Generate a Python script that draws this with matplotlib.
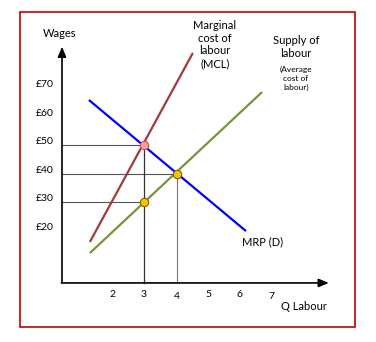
import matplotlib.pyplot as plt
from matplotlib.patches import Rectangle

# curve end points (Q labour, wage in pounds)
mrp_q = [1.33, 6.09]
mrp_w = [65.8, 19.8]
mcl_q = [1.36, 4.48]
mcl_w = [16.0, 82.3]
supply_q = [1.36, 6.58]
supply_w = [12.1, 68.6]

# points of interest
mcl_point = (3, 50)
orange_q = [4, 3]
orange_w = [40, 30]

wage_ticks = [70, 60, 50, 40, 30, 20]
wage_labels = ["£70", "£60", "£50", "£40", "£30", "£20"]
q_ticks = [2, 3, 4, 5, 6, 7]
q_tick_pos = [2.03, 3, 4, 4.94, 5.88, 6.85]

plt.rcParams['font.family'] = ['Lato', 'DejaVu Sans']

fig = plt.figure(figsize=(3.76, 3.42), dpi=100)
ax = fig.add_axes([0, 0, 1, 1])
ax.set_xlim(-1.364, 10.03)
ax.set_ylim(-19.12, 100.88)
ax.axis("off")

# red frame
fig.patches.append(Rectangle((19.5 / 376, 1 - 327 / 342), 335 / 376, 315 / 342,
                             transform=fig.transFigure, fill=False,
                             edgecolor="#c00000", linewidth=1.2))

x0, y0 = 0.515, 1.6
# axes with arrow heads
ax.annotate("", xy=(x0, 84.5), xytext=(x0, y0),
            arrowprops=dict(arrowstyle="-|>,head_width=0.25,head_length=0.6",
                            color="black", lw=1.2, shrinkA=0, shrinkB=0))
ax.annotate("", xy=(8.6, y0), xytext=(x0 - 0.02, y0),
            arrowprops=dict(arrowstyle="-|>,head_width=0.25,head_length=0.6",
                            color="black", lw=1.2, shrinkA=0, shrinkB=0))

# guide lines
ax.plot([x0, 3], [50, 50], color="#555555", lw=0.8)
ax.plot([x0, 4], [40, 40], color="#555555", lw=0.8)
ax.plot([x0, 3], [30, 30], color="#555555", lw=0.8)
ax.plot([3, 3], [y0, 50], color="#333333", lw=0.9)
ax.plot([4, 4], [y0, 40], color="#777777", lw=0.8)

# curves
ax.plot(mcl_q, mcl_w, color="#a33a3a", lw=1.6, solid_capstyle="butt")
ax.plot(supply_q, supply_w, color="#77933c", lw=1.6, solid_capstyle="butt")
ax.plot(mrp_q, mrp_w, color="#0000ff", lw=1.6, solid_capstyle="butt")

ax.plot(*mcl_point, "o", ms=6, mfc="#f4a3a8", mec="#d0505a", mew=0.9, zorder=5)
ax.plot(orange_q, orange_w, "o", ms=6, ls="none", mfc="#ffc000", mec="#7f6000", mew=0.8, zorder=5)

# tick labels
for w, lab in zip(wage_ticks, wage_labels):
    ax.text(-0.27, w + 1.2, lab, fontsize=7.5, ha="left", va="center")
for q, pos in zip(q_ticks, q_tick_pos):
    dy = -0.7 if q in (4, 7) else 0
    ax.text(pos, -2.6 + dy, str(q), fontsize=7.5, ha="center", va="center")

# labels
ax.text(-0.06, 89.3, "Wages", fontsize=8, ha="left", va="center")
ax.text(7.85, -6.8, "Q Labour", fontsize=8, ha="center", va="center")
ax.text(6.58, 16.0, "MRP (D)", fontsize=8, ha="center", va="center")
ax.text(5.15, 85.3, "Marginal\ncost of\nlabour\n(MCL)", fontsize=8,
        ha="center", va="center", linespacing=1.2)
ax.text(7.6, 84.4, "Supply of\nlabour", fontsize=8, ha="center", va="center",
        linespacing=1.2)
ax.text(7.6, 73.5, "(Average\ncost of\nlabour)", fontsize=6, ha="center", va="center",
        linespacing=1.3)

fig.savefig("out.png", dpi=100)
